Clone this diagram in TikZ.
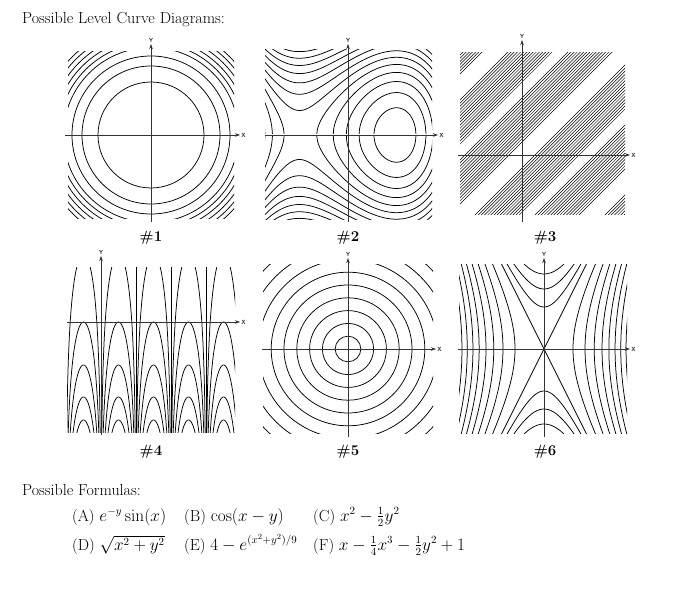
\documentclass[tikz,border=0pt]{standalone}
\usetikzlibrary{arrows.meta}
\begin{document}
\begin{tikzpicture}[x=1pt,y=-1pt,
  cv/.style={line width=0.75pt,black},
  axis/.style={line width=0.6pt,black!80,-{Stealth[length=5pt,width=3.5pt]}},
  lbl/.style={font=\fontsize{6}{7}\selectfont\sffamily\bfseries,inner sep=1pt},
  txt/.style={font=\fontsize{16}{19}\selectfont,anchor=base west,inner sep=0pt},
  num/.style={font=\fontsize{15}{18}\selectfont\bfseries,inner sep=0pt}]
\useasboundingbox (0,0) rectangle (674,601);

\node[txt] (t1) at (22,24) {Possible Level Curve Diagrams:};
\node[txt] (t2) at (22,495) {Possible Formulas:};
\node[txt] (fa) at (72,521) {(A) $e^{-y}\sin(x)$};
\node[txt] (fb) at (184,521) {(B) $\cos(x-y)$};
\node[txt] (fc) at (313,521) {(C) $x^2-\frac{1}{2}y^2$};
\node[txt] (fd) at (72,550) {(D) $\sqrt{x^2+y^2}$};
\node[txt] (fe) at (184,550) {(E) $4-e^{(x^2+y^2)/9}$};
\node[txt] (ff) at (313,550) {(F) $x-\frac{1}{4}x^3-\frac{1}{2}y^2+1$};

\node[num] (n1) at (151,238) {\#1};
\node[num] (n2) at (348,238) {\#2};
\node[num] (n3) at (545,238) {\#3};
\node[num] (n4) at (151,452) {\#4};
\node[num] (n5) at (348,452) {\#5};
\node[num] (n6) at (545,452) {\#6};

% ---- #1
\begin{scope}[shift={(151,135)},yscale=-1]
\clip (-83,-84) rectangle (83,83);
\foreach \r in {53,69,79,87.5,92.5,97.3,102,106.7,111}{\draw[cv] (0,0) circle (\r);}
\end{scope}
\draw[axis] (65,135) -- (240,135) node[right,lbl] (x1) {X};
\draw[axis] (151,222) -- (151,44) node[above,lbl] (y1) {Y};

% ---- #2
\begin{scope}[shift={(348,135)},yscale=-1]
\clip (-83,-85) rectangle (84,85);
\foreach \c in {1.56,1.26,0.96,0.66,0.36,0.06,-0.24,-0.54,-0.84,-1.14,-1.44,-1.74}{
 \draw[cv] plot[domain=-2.1:2.1,samples=500] ({42*\x},{42*sqrt(2*max(0,\x-\x*\x*\x/4+1-\c))});
 \draw[cv] plot[domain=-2.1:2.1,samples=500] ({42*\x},{-42*sqrt(2*max(0,\x-\x*\x*\x/4+1-\c))});
}
\draw[white,line width=1.4pt] (-90,0) -- (90,0);
\end{scope}
\draw[axis] (265,135) -- (438,135) node[right,lbl] (x2) {X};
\draw[axis] (348,222) -- (348,44) node[above,lbl] (y2) {Y};

% ---- #3
\begin{scope}[shift={(522,155)},yscale=-1]
\clip (-62,-60) rectangle (103,102);
\foreach \n in {-3,...,3}{
 \foreach \j in {0,...,14}{
  \pgfmathsetmacro\da{130*\n+13+3.15*\j}
  \pgfmathsetmacro\db{130*\n-13-3.15*\j}
  \draw[line width=0.5pt] (-200,-200-\da) -- (200,200-\da);
  \draw[line width=0.5pt] (-200,-200-\db) -- (200,200-\db);
 }}
\end{scope}
\draw[axis] (458,155) -- (630,155) node[right,lbl] (x3) {X};
\draw[axis] (522,222) -- (522,40) node[above,lbl] (y3) {Y};

% ---- #4
\begin{scope}[shift={(101,322)},yscale=-1]
\clip (-34,-110) rectangle (134,54);
\foreach \k in {-2,...,4}{
 \pgfmathsetmacro\px{17.5+35*\k}
 \draw[cv] ({\px-17.5},-120) -- ({\px-17.5},60);
 \foreach \yo in {-68,0,43,75,98}{
  \draw[cv] plot[domain=-1.565:1.565,samples=120] ({\px+11.14*\x},{-(\yo-68*ln(cos(deg(\x))))});
 }}
\end{scope}
\draw[axis] (67,322) -- (240,322) node[right,lbl] (x4) {X};
\draw[axis] (101,435) -- (101,256) node[above,lbl] (y4) {Y};

% ---- #5
\begin{scope}[shift={(348,349)},yscale=-1]
\clip (-85,-84) rectangle (85,84);
\foreach \k in {1,...,9}{\draw[cv] (0,0) circle (12.8*\k);}
\end{scope}
\draw[axis] (262,349) -- (436,349) node[right,lbl] (x5) {X};
\draw[axis] (348,437) -- (348,258) node[above,lbl] (y5) {Y};

% ---- #6
\begin{scope}[shift={(544,349)},yscale=-1]
\clip (-85,-84) rectangle (83,84);
\draw[cv] (-60,-120) -- (60,120);
\draw[cv] (-60,120) -- (60,-120);
\foreach \k in {1,...,8}{
 \pgfmathsetmacro\H{29*sqrt(\k)}
 \draw[cv] plot[domain=-2.2:2.2,samples=80] ({\H*cosh(\x)},{2*\H*sinh(\x)});
 \draw[cv] plot[domain=-2.2:2.2,samples=80] ({-\H*cosh(\x)},{2*\H*sinh(\x)});
}
\foreach \V in {42,60,75}{
 \draw[cv] plot[domain=-2.5:2.5,samples=80] ({\V/2*sinh(\x)},{\V*cosh(\x)});
 \draw[cv] plot[domain=-2.5:2.5,samples=80] ({\V/2*sinh(\x)},{-\V*cosh(\x)});
}
\end{scope}
\draw[axis] (458,349) -- (630,349) node[right,lbl] (x6) {X};
\draw[axis] (544,437) -- (544,258) node[above,lbl] (y6) {Y};
\end{tikzpicture}
\end{document}
